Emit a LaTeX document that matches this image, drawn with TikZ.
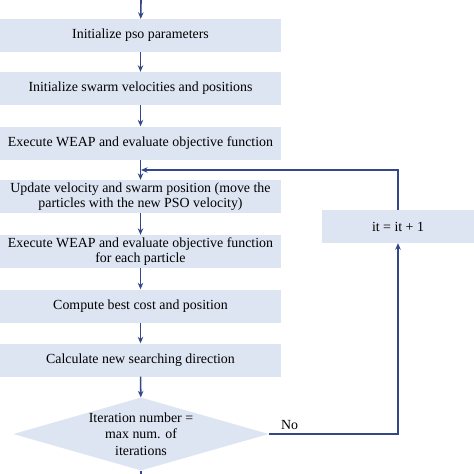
\documentclass[tikz,border=0pt]{standalone}
\usepackage{fontspec}
\setmainfont{Liberation Serif}
\usetikzlibrary{shapes.geometric,arrows.meta}
\definecolor{boxfill}{RGB}{221,229,242}
\definecolor{linecol}{RGB}{50,72,135}
\tikzset{
  stepbox/.style={rectangle, fill=boxfill, minimum width=281pt, minimum height=33pt, inner sep=0pt, align=center, font=\fontsize{13.9}{14.5}\selectfont},
  decbox/.style={diamond, fill=boxfill, aspect=3.5, minimum width=250pt, minimum height=72pt, inner sep=0pt, align=center, font=\fontsize{13.9}{16.7}\selectfont},
  arr/.style={draw=linecol, line width=1.6pt, -{Stealth[length=6.5pt,width=5.5pt]}},
  ln/.style={draw=linecol, line width=1.6pt},
}
\begin{document}
\begin{tikzpicture}[x=1pt,y=-1pt]
\useasboundingbox (0,0) rectangle (474,474);
\node[stepbox] (b1) at (140.5,35.5) {Initialize pso parameters};
\node[stepbox] (b2) at (140.5,88.5) {Initialize swarm velocities and positions};
\node[stepbox] (b3) at (140.5,143) {Execute WEAP and evaluate objective function};
\node[stepbox] (b4) at (140.5,196.5) {Update velocity and swarm position (move the\\particles with the new PSO velocity)};
\node[stepbox] (b5) at (140.5,251.5) {Execute WEAP and evaluate objective function\\for each particle};
\node[stepbox] (b6) at (140.5,306) {Compute best cost and position};
\node[stepbox] (b7) at (140.5,360) {Calculate new searching direction};
\node[decbox] (d) at (141,434) {Iteration number =\\max num. of\\iterations};
\node[stepbox, minimum width=152pt] (it) at (398,226.5) {it = it + 1};
\coordinate (top) at (141,0);
\coordinate (bot) at (141,474);
\coordinate (j) at (141,170);
\draw[arr] (top) -- (b1);
\draw[arr] (b1) -- (b2);
\draw[arr] (b2) -- (b3);
\draw[arr] (b3) -- (b4);
\draw[arr] (b4) -- (b5);
\draw[arr] (b5) -- (b6);
\draw[arr] (b6) -- (b7);
\draw[arr] (b7) -- (d);
\draw[ln] (d) -- (bot);
\draw[arr] (d.east) -| node[pos=0.08, above, font=\fontsize{13.9}{14.5}\selectfont] (no) {No} (it.south);
\draw[arr] (it.north) |- (j);
\end{tikzpicture}
\end{document}
